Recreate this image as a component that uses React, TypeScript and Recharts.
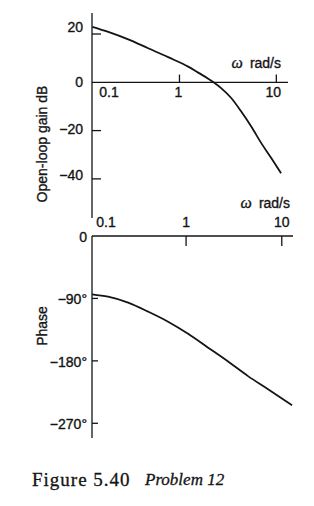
import React from 'react';
import { LineChart, Line, XAxis, YAxis, ReferenceLine } from 'recharts';

// Open-loop gain (dB) against frequency (rad/s)
const gainOmega = [0.126, 0.184, 0.296, 0.475, 0.764, 1.23, 1.56, 1.98, 2.23, 2.71, 3.44, 4.36, 5.53, 7.02, 8.9, 11.2];
const gainDb = [23.0, 20.9, 17.8, 14.1, 10.4, 6.5, 4.0, 1.5, 0.1, -2.5, -6.6, -12.2, -18.4, -25.3, -31.5, -37.7];

// Phase (degrees) against frequency (rad/s)
const phaseOmega = [0.104, 0.153, 0.248, 0.401, 0.649, 1.05, 1.7, 2.75, 4.44, 7.19, 12.8];
const phaseDeg = [-84, -87.5, -96, -109, -123.5, -141, -161, -181, -202, -221, -244];

const gainTicks = [20, 0, -20, -40];
const phaseTicks = [0, -90, -180, -270];
const omegaTicks = [0.1, 1, 10];
const omegaTickLabels = ['0.1', '1', '10'];

const gainData = gainOmega.map((w, i) => ({ w, db: gainDb[i] }));
const phaseData = phaseOmega.map((w, i) => ({ w, deg: phaseDeg[i] }));

const INK = '#141414';
const SANS = '"Liberation Sans", Arial, sans-serif';
const SERIF = '"Liberation Serif", "Times New Roman", serif';
const PLOT_LEFT = 92;
const TEXT_STROKE = 0.35; // printed text is a little heavier than plain Arial

const gainDomainX: [number, number] = [0.125, 13.2];
const phaseDomainX: [number, number] = [0.104, 13.1];

// the printed figure nudges a few gain labels off their ticks
const gainLabelNudge: Record<number, number> = { 20: -7, 0: 0, '-20': -2, '-40': -4 };

const minus = (v: number) => (v < 0 ? `\u2212${-v}` : `${v}`);
const omegaLabel = (v: number) => omegaTickLabels[omegaTicks.indexOf(v)] ?? `${v}`;

const txt = { fill: INK, fontSize: 14, fontFamily: SANS, stroke: INK, strokeWidth: TEXT_STROKE };

const OmegaText = ({ x, y }: { x: number; y: number }) => (
  <text x={x} y={y} textAnchor="end" {...txt}>
    <tspan fontFamily={SERIF} fontStyle="italic" fontSize={16}>ω</tspan>
    <tspan dx={7}>rad/s</tspan>
  </text>
);

const GainTick = (props: any) => {
  const { x, y, payload } = props;
  const v = payload.value as number;
  return (
    <g>
      {v !== 0 && <line x1={x} y1={y} x2={x + 9} y2={y} stroke={INK} strokeWidth={1.3} />}
      <text x={x - 9} y={y + 5 + (gainLabelNudge[v] ?? 0)} textAnchor="end" {...txt}>
        {minus(v)}
      </text>
    </g>
  );
};

const PhaseTick = (props: any) => {
  const { x, y, payload } = props;
  const v = payload.value as number;
  return (
    <g>
      {v !== 0 && <line x1={x} y1={y} x2={x + 6} y2={y} stroke={INK} strokeWidth={1.3} />}
      <text x={x - 5} y={y + 6} textAnchor="end" {...txt}>
        {v === 0 ? '0' : `${minus(v)}°`}
      </text>
    </g>
  );
};

const PhaseOmegaTick = (props: any) => {
  const { x, y, payload } = props;
  const v = payload.value as number;
  const inside = v >= phaseDomainX[0] && v <= phaseDomainX[1];
  return (
    <g>
      {inside && <line x1={x} y1={y} x2={x} y2={y + 10} stroke={INK} strokeWidth={1.3} />}
      <text x={Math.max(x, PLOT_LEFT + 14)} y={y - 9} textAnchor="middle" {...txt}>
        {omegaLabel(v)}
      </text>
    </g>
  );
};

const VerticalTitle = ({ cx, cy, text }: { cx: number; cy: number; text: string }) => (
  <text
    x={cx}
    y={cy}
    transform={`rotate(-90 ${cx} ${cy})`}
    textAnchor="middle"
    dominantBaseline="central"
    {...txt}
  >
    {text}
  </text>
);

const GainChart = () => (
  <LineChart width={314} height={230} data={gainData} margin={{ top: 13, right: 26, bottom: 12, left: 32 }}>
    <XAxis dataKey="w" type="number" scale="log" domain={gainDomainX} allowDataOverflow hide />
    <YAxis
      type="number"
      domain={[-56.2, 28.7]}
      allowDataOverflow
      ticks={gainTicks}
      interval={0}
      width={60}
      tickSize={0}
      tickMargin={0}
      tickLine={false}
      axisLine={{ stroke: INK, strokeWidth: 1.3 }}
      tick={GainTick}
      label={(p: any) => <VerticalTitle cx={p.viewBox.x + 10} cy={p.viewBox.y + 131} text="Open-loop gain dB" />}
    />
    <ReferenceLine
      y={0}
      stroke={INK}
      strokeWidth={1.3}
      label={(p: any) => <OmegaText x={p.viewBox.x + p.viewBox.width - 7} y={p.viewBox.y - 14} />}
    />
    {omegaTicks.map((w) => {
      const inside = w >= gainDomainX[0] && w <= gainDomainX[1];
      return (
        <ReferenceLine
          key={w}
          segment={[{ x: w, y: 0 }, { x: w, y: 3.2 }]}
          ifOverflow="visible"
          stroke={inside ? INK : 'none'}
          strokeWidth={1.3}
          label={(p: any) => (
            <text
              x={Math.max(p.viewBox.x, PLOT_LEFT + 18) - (w === 10 ? 3 : 1)}
              y={p.viewBox.y + p.viewBox.height + 15}
              textAnchor="middle"
              {...txt}
            >
              {omegaLabel(w)}
            </text>
          )}
        />
      );
    })}
    <Line type="monotone" dataKey="db" stroke={INK} strokeWidth={1.8} dot={false} isAnimationActive={false} />
  </LineChart>
);

const PhaseChart = () => (
  <LineChart width={314} height={260} data={phaseData} margin={{ top: 26, right: 21, bottom: 12, left: 32 }}>
    <XAxis
      dataKey="w"
      type="number"
      scale="log"
      orientation="top"
      domain={phaseDomainX}
      allowDataOverflow
      ticks={omegaTicks}
      interval={0}
      height={20}
      tickSize={0}
      tickMargin={0}
      tickLine={false}
      axisLine={{ stroke: INK, strokeWidth: 1.3 }}
      tick={PhaseOmegaTick}
      label={(p: any) => <OmegaText x={p.viewBox.x + p.viewBox.width - 3} y={p.viewBox.y - 8} />}
    />
    <YAxis
      type="number"
      domain={[-291.2, 0]}
      allowDataOverflow
      ticks={phaseTicks}
      interval={0}
      width={60}
      tickSize={0}
      tickMargin={0}
      tickLine={false}
      axisLine={{ stroke: INK, strokeWidth: 1.3 }}
      tick={PhaseTick}
      label={(p: any) => <VerticalTitle cx={p.viewBox.x + 10} cy={p.viewBox.y + 90} text="Phase" />}
    />
    <Line type="monotone" dataKey="deg" stroke={INK} strokeWidth={1.8} dot={false} isAnimationActive={false} />
  </LineChart>
);

export default function App() {
  return (
    <div style={{ position: 'absolute', left: 0, top: 0, width: 314, height: 506, background: '#fff' }}>
      <div style={{ position: 'absolute', left: 0, top: 0 }}>
        <GainChart />
      </div>
      <div style={{ position: 'absolute', left: 0, top: 190 }}>
        <PhaseChart />
      </div>
      <div style={{ position: 'absolute', left: 32, top: 470, fontFamily: SERIF, fontSize: 19, lineHeight: 1, letterSpacing: 1, color: INK, whiteSpace: 'nowrap', WebkitTextStroke: '0.3px #141414' }}>
        Figure 5.40
      </div>
      <div style={{ position: 'absolute', left: 145, top: 471, fontFamily: SERIF, fontSize: 17, lineHeight: 1, fontStyle: 'italic', color: INK, whiteSpace: 'nowrap', WebkitTextStroke: '0.3px #141414' }}>
        Problem 12
      </div>
    </div>
  );
}
